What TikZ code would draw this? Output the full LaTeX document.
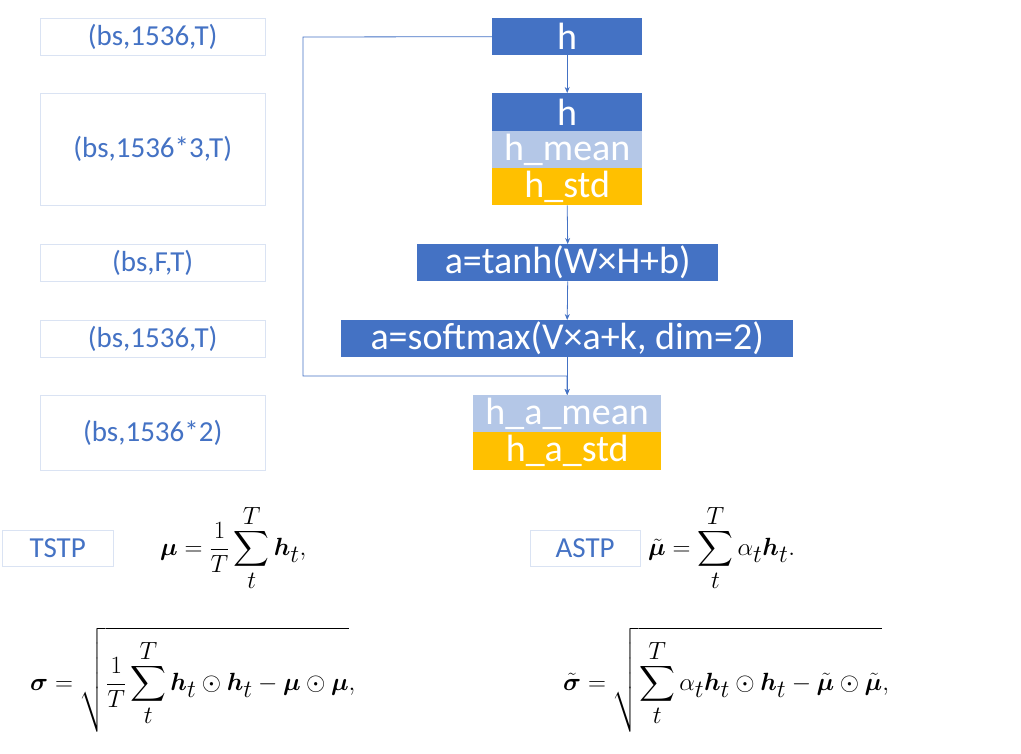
\documentclass[tikz,border=0pt]{standalone}
\usepackage{amsmath,bm}
\usepackage{fontspec}
\setmainfont{Carlito}
\usetikzlibrary{arrows.meta}
\definecolor{bl}{HTML}{4472C4}
\definecolor{lb}{HTML}{B4C7E7}
\definecolor{gd}{HTML}{FFC000}
\definecolor{bd}{HTML}{DAE3F3}
\begin{document}
\begin{tikzpicture}[x=1pt,y=-1pt,
 lbl/.style={draw=bd,fill=white,text=bl,font=\fontsize{29}{32}\selectfont,anchor=north west,inner sep=0},
 blk/.style={fill=#1,text=white,font=\fontsize{38}{40}\selectfont,anchor=north west,inner sep=0},
 arr/.style={draw=bl,-{Stealth[length=6pt,width=5pt]},line width=0.8pt},
 fm/.style={font=\fontsize{33}{38}\selectfont,anchor=west,inner sep=0}]
\useasboundingbox (0,0) rectangle (1021,754);
\node[lbl,minimum width=225,minimum height=37] (l1) at (40,18) {(bs,1536,T)};
\node[lbl,minimum width=225,minimum height=112] (l2) at (40,93) {(bs,1536*3,T)};
\node[lbl,minimum width=225,minimum height=37] (l3) at (40,244) {(bs,F,T)};
\node[lbl,minimum width=225,minimum height=37] (l4) at (40,320) {(bs,1536,T)};
\node[lbl,minimum width=225,minimum height=75] (l5) at (40,395) {(bs,1536*2)};
\node[blk=bl,minimum width=150,minimum height=37] (h) at (492,18) {h};
\node[blk=bl,minimum width=150,minimum height=38] (s1) at (492,93) {h};
\node[blk=lb,minimum width=150,minimum height=37] (s2) at (492,131) {h\_mean};
\node[blk=gd,minimum width=150,minimum height=37] (s3) at (492,168) {h\_std};
\node[blk=bl,minimum width=301,minimum height=37] (t) at (417,244) {a=tanh(W×H+b)};
\node[blk=bl,minimum width=452,minimum height=37] (sm) at (341,320) {a=softmax(V×a+k, dim=2)};
\node[blk=lb,minimum width=188,minimum height=37] (m) at (473,395) {h\_a\_mean};
\node[blk=gd,minimum width=188,minimum height=38] (sd) at (473,432) {h\_a\_std};
\draw[arr] (h.south) -- (s1.north);
\draw[arr] (s3.south) -- (t.north);
\draw[arr] (t.south) -- (sm.north);
\draw[arr] (sm.south) -- (m.north);
\coordinate (c1) at (303,37);
\coordinate (c2) at (303,376);
\coordinate (c3) at (567,376);
\draw[arr] (h.west) -- (c1) -- (c2) -- (c3) -- (m.north);
\node[lbl,minimum width=111,minimum height=36] (ts) at (2,530) {TSTP};
\node[lbl,minimum width=110,minimum height=36] (as) at (530,530) {ASTP};
\node[fm] (f1) at (160,548) {$\displaystyle \bm{\mu}=\frac{1}{T}\sum_t^T \bm{h}_t,$};
\node[fm] (f2) at (648,548) {$\displaystyle \tilde{\bm{\mu}}=\sum_t^T \alpha_t\bm{h}_t.$};
\node[fm] (f3) at (30,680) {$\displaystyle \bm{\sigma}=\sqrt{\frac{1}{T}\sum_t^T \bm{h}_t\odot\bm{h}_t-\bm{\mu}\odot\bm{\mu}},$};
\node[fm] (f4) at (563,680) {$\displaystyle \tilde{\bm{\sigma}}=\sqrt{\sum_t^T \alpha_t\bm{h}_t\odot\bm{h}_t-\tilde{\bm{\mu}}\odot\tilde{\bm{\mu}}},$};
\end{tikzpicture}
\end{document}
